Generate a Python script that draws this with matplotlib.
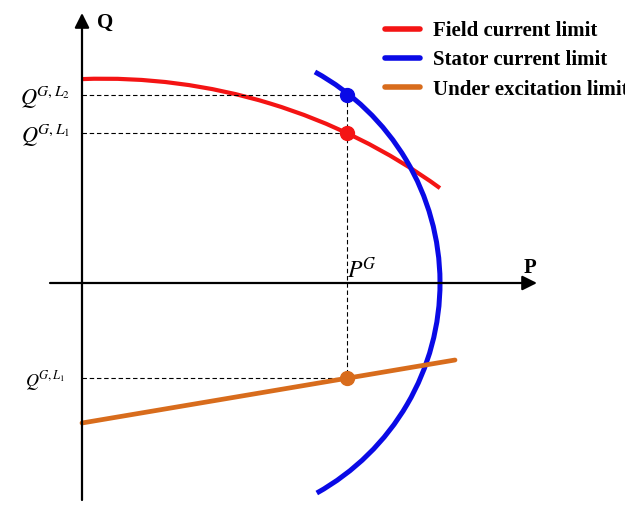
import numpy as np
import matplotlib.pyplot as plt
from matplotlib.patches import Arc
from matplotlib.lines import Line2D

plt.rcParams['mathtext.fontset'] = 'stix'
plt.rcParams['font.family'] = 'Liberation Serif'

# P-Q diagram, arbitrary units (origin at the axes crossing)
p_g = 2.65                      # operating active power P^G
q_l2 = 1.88                     # stator limit at P^G
q_l1 = 1.50                     # field limit at P^G
q_uel = -0.95                   # under excitation limit at P^G

# field current limit: circle arc (center, radius, start/end angle in deg)
field_center = (0.215, -3.677)
field_radius = 5.72
field_angles = (53.97, 92.15)

# stator current limit: circle arc
stator_center = (1.174, 0.0)
stator_radius = 2.406
stator_angles = (-60.8, 61.3)

# under excitation limit: straight line
uel_p = [0.0, 3.73]
uel_q = [-1.40, -0.77]

legend_labels = ['Field current limit', 'Stator current limit', 'Under excitation limit']

c_red = '#f41414'
c_blue = '#0a0ae6'
c_orange = '#d86c1c'

fig = plt.figure(figsize=(6.25, 5.16), dpi=100)
ax = fig.add_axes([0, 0, 1, 1])
ax.set_xlim(-0.82, 5.43)
ax.set_ylim(-2.33, 2.83)
ax.axis('off')

# axes with arrows
ax.annotate('', xy=(4.55, 0), xytext=(-0.32, 0),
            arrowprops=dict(arrowstyle='-|>', lw=1.6, color='k', mutation_scale=22, shrinkA=0, shrinkB=0))
ax.annotate('', xy=(0, 2.70), xytext=(0, -2.17),
            arrowprops=dict(arrowstyle='-|>', lw=1.6, color='k', mutation_scale=22, shrinkA=0, shrinkB=0))
ax.text(0.15, 2.60, 'Q', fontsize=15, fontweight='bold', va='center', ha='left')
ax.text(4.42, 0.15, 'P', fontsize=15, fontweight='bold', va='center', ha='left')

# guide lines
dash = dict(color='k', lw=0.8, ls=(0, (4, 2.5)))
ax.plot([p_g, p_g], [q_l2, q_uel], **dash)
for q in [q_l2, q_l1, q_uel]:
    ax.plot([0, p_g], [q, q], **dash)

# limit curves
ax.add_patch(Arc(field_center, 2 * field_radius, 2 * field_radius,
                 theta1=field_angles[0], theta2=field_angles[1], color=c_red, lw=3.0))
ax.add_patch(Arc(stator_center, 2 * stator_radius, 2 * stator_radius,
                 theta1=stator_angles[0], theta2=stator_angles[1], color=c_blue, lw=3.6))
ax.plot(uel_p, uel_q, color=c_orange, lw=3.4, solid_capstyle='round')

# operating points
ax.plot([p_g], [q_l2], 'o', color=c_blue, ms=10, zorder=5)
ax.plot([p_g], [q_l1], 'o', color=c_red, ms=10, zorder=5)
ax.plot([p_g], [q_uel], 'o', color=c_orange, ms=10, zorder=5)

# labels
ax.text(-0.12, q_l2 - 0.03, r'$Q^{\!G,L_2}$', fontsize=16, ha='right', va='center')
ax.text(-0.12, q_l1 - 0.03, r'$Q^{\!G,L_1}$', fontsize=16, ha='right', va='center')
ax.text(-0.17, q_uel - 0.03, r'$Q^{\!G,L_1}$', fontsize=13, ha='right', va='center')
ax.text(p_g + 0.0, 0.0, r'$P^{\!G}$', fontsize=17, ha='left', va='bottom')

handles = [Line2D([], [], color=c, lw=4, solid_capstyle='round') for c in [c_red, c_blue, c_orange]]
fig.legend(handles, legend_labels, loc='upper left', bbox_to_anchor=(385 / 625, 1 - 21 / 516),
           frameon=False, borderpad=0, borderaxespad=0, handlelength=1.7, handletextpad=0.62,
           labelspacing=0.45, prop=dict(family='Liberation Serif', weight='bold', size=15))

fig.savefig('out.png', dpi=100)
